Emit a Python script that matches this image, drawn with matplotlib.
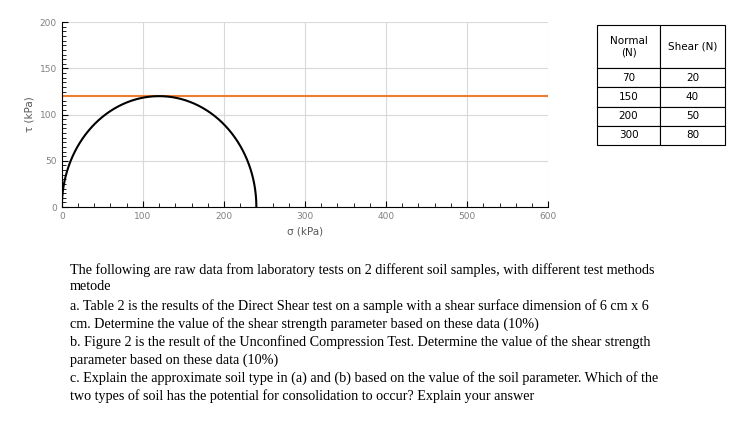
import numpy as np
import matplotlib.pyplot as plt
from matplotlib.ticker import MultipleLocator

# Mohr circle (unconfined compression)
centre = 120
radius = 120
cu = 120

normal = ["70", "150", "200", "300"]
shear = ["20", "40", "50", "80"]

lines = [
    "The following are raw data from laboratory tests on 2 different soil samples, with different test methods",
    "metode",
    "a. Table 2 is the results of the Direct Shear test on a sample with a shear surface dimension of 6 cm x 6",
    "cm. Determine the value of the shear strength parameter based on these data (10%)",
    "b. Figure 2 is the result of the Unconfined Compression Test. Determine the value of the shear strength",
    "parameter based on these data (10%)",
    "c. Explain the approximate soil type in (a) and (b) based on the value of the soil parameter. Which of the",
    "two types of soil has the potential for consolidation to occur? Explain your answer",
]
line_y = [270, 287, 306, 324, 342, 360, 378, 396]

fig = plt.figure(figsize=(7.54, 4.4), dpi=100)
ax = fig.add_axes([0.082, 0.5295, 0.645, 0.42])

t = np.linspace(0, np.pi, 200)
ax.plot(centre - radius * np.cos(t), radius * np.sin(t), color="black", lw=1.5, zorder=3)
ax.axhline(cu, color="#ed7d31", lw=1.5, zorder=2)

ax.set_xlim(0, 600)
ax.set_ylim(0, 200)
ax.xaxis.set_major_locator(MultipleLocator(100))
ax.xaxis.set_minor_locator(MultipleLocator(20))
ax.yaxis.set_major_locator(MultipleLocator(50))
ax.yaxis.set_minor_locator(MultipleLocator(5))
ax.grid(True, which="major", color="#d9d9d9", lw=0.8)
for s in ["top", "right"]:
    ax.spines[s].set_visible(False)
ax.tick_params(which="both", direction="in", length=3, labelsize=6.5, labelcolor="#808080")
ax.tick_params(which="major", length=4)
ax.set_xlabel("σ (kPa)", fontsize=7.5, color="#595959")
ax.set_ylabel("τ (kPa)", fontsize=7.5, color="#595959")

# table
tab_ax = fig.add_axes([597 / 754, 1 - 145 / 440, 128 / 754, 120 / 440])
tab_ax.axis("off")
cells = [["Normal\n(N)", "Shear (N)"]] + [[n, s] for n, s in zip(normal, shear)]
tb = tab_ax.table(cellText=cells, cellLoc="center", bbox=[0, 0, 1, 1])
tb.auto_set_font_size(False)
for (r, c), cell in tb.get_celld().items():
    cell.set_fontsize(7.5)
    cell.set_linewidth(0.8)
    cell.set_height(43 / 120 if r == 0 else 19.25 / 120)
    cell.set_width(63 / 128 if c == 0 else 65 / 128)

for ln, y in zip(lines, line_y):
    fig.text(70 / 754, 1 - y / 440, ln, fontsize=10.2, family="Liberation Serif", va="center")

fig.savefig("out.png", dpi=100)
